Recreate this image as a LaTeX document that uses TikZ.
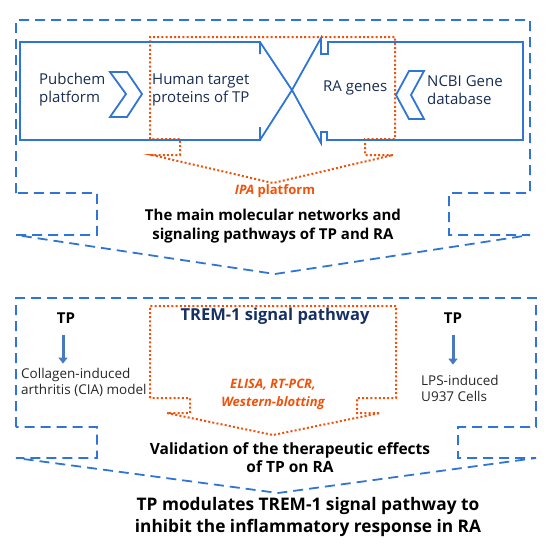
\documentclass[tikz,border=0pt]{standalone}
\usepackage{fontspec}
\setmainfont{Open Sans}
\usepackage{xcolor}
\definecolor{LineBlue}{RGB}{46,117,214}
\definecolor{DotOrange}{RGB}{240,82,10}
\definecolor{TextNavy}{RGB}{24,44,82}
\definecolor{TitleNavy}{RGB}{22,48,100}
\definecolor{ArrowBlue}{RGB}{72,122,192}
\usepackage{tikz}
\usetikzlibrary{arrows.meta}
\tikzstyle{Frame}=[draw=LineBlue,line width=1.8pt,dash pattern=on 10pt off 6pt]
\tikzstyle{Box}=[draw=LineBlue,line width=1.8pt,line join=miter]
\tikzstyle{Dots}=[draw=DotOrange,line width=2pt,dash pattern=on 2pt off 2.2pt]
\tikzstyle{Label}=[text=TextNavy,font=\fontsize{15}{18}\selectfont,align=left,inner sep=0pt]
\tikzstyle{Small}=[text=black!85,font=\fontsize{13.5}{16}\selectfont,align=left,inner sep=0pt]
\tikzstyle{Result}=[font=\bfseries\fontsize{15}{19}\selectfont,align=center,inner sep=0pt]
\tikzstyle{Method}=[text=DotOrange,font=\bfseries\itshape\fontsize{13}{18}\selectfont,align=center,inner sep=0pt]
\tikzstyle{Down}=[draw=ArrowBlue,line width=3pt,-{Triangle[width=9pt,length=6pt]}]

\begin{document}
\begin{tikzpicture}[x=1pt,y=-1pt]
    \useasboundingbox(0,0)rectangle(550,550);
        \draw[Frame](16,193)--(16,20)--(530,20)--(530,193)--(449,193)
            --(449,235)--(530,235)--(275,274)--(16,235)--(97,235)--(97,193)--cycle;
        \draw[Frame](16,427)--(16,298)--(536,298)--(536,427)--(458,427)
            --(458,458)--(536,458)--(278,493)--(16,458)--(97,458)--(97,427)--cycle;
        \draw[Dots](150,139)--(150,37)--(395,37)--(395,139)--(365,139)--(365,155)
            --(393,155)--(273,183)--(152,155)--(180,155)--(180,139)--cycle;
        \draw[Dots](150,398)--(150,306)--(396,306)--(396,398)--(357,398)--(357,413)
            --(380,413)--(273,435)--(167,413)--(190,413)--(190,398)--cycle;
        \draw[Box](260,54)--(260,42)--(20,42)--(20,140)--(260,140)--(260,127)
            (260,42)--(292,90)--(260,140);
        \draw[Box](292,90)--(321,38)--(321,54)--(328,54)--(328,42)--(523,42)--(523,140)
            --(327,140)--(327,132)--(321,132)--(321,143)--cycle;
        \draw[Box](110,72)--(127,72)--(142,94)--(127,117)--(110,117)--(126,94)--cycle;
        \draw[Box](424,71)--(409,71)--(396,95)--(409,119)--(424,119)--(411,95)--cycle;
        \node[Label,anchor=west](pubchem)at(39,90){Pubchem\\platform};
        \node[Label,anchor=west](human)at(152,90){Human target\\proteins of TP};
        \node[Label,anchor=west](ragenes)at(323,88){RA genes};
        \node[Label,anchor=west](ncbi)at(427,90){NCBI Gene\\database};
        \node[Method](ipa)at(275,191){IPA \textup{platform}};
        \node[Result](networks)at(273,226)
            {The main molecular networks and\\signaling pathways of TP and RA};
        \node[Result](tpL)at(66,318){TP};
        \node[Small,anchor=west](cia)at(21,382){Collagen-induced\\arthritis (CIA) model};
        \node[Result](tpR)at(453,318){TP};
        \node[Small,anchor=west](lps)at(421,388){LPS-induced\\U937 Cells};
        \draw[Down,shorten <=11pt,shorten >=4pt](tpL.south -| 63,0)--(cia.north -| 63,0);
        \draw[Down,shorten <=11pt,shorten >=10pt](tpR.south)--(tpR.south |- lps.north);
        \node[Result,text=TitleNavy,font=\bfseries\fontsize{16.5}{19}\selectfont](trem)
            at(275,316){TREM-1 signal pathway};
        \node[Method](elisa)at(273,394){ELISA, RT-PCR,\\Western-blotting};
        \node[Result,font=\bfseries\fontsize{15.5}{18}\selectfont](validation)at(290,458)
            {Validation of the therapeutic effects\\of TP on RA};
        \node[Result,font=\bfseries\fontsize{17.3}{22}\selectfont](final)at(308,517)
            {TP modulates TREM-1 signal pathway to\\inhibit the inflammatory response in RA};
    \end{tikzpicture}
\end{document}
